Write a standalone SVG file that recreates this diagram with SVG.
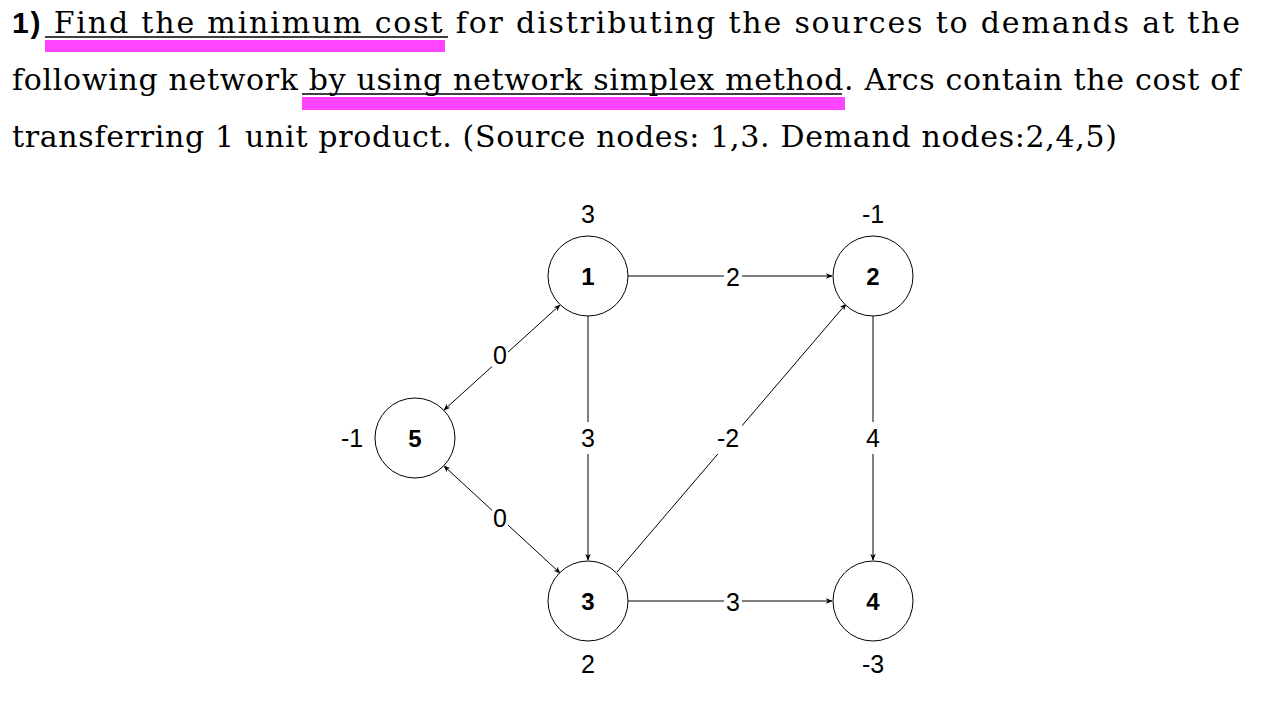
<svg xmlns="http://www.w3.org/2000/svg" width="1278" height="712" viewBox="0 0 1278 712">
<style>
.q{font-family:"DejaVu Serif","Liberation Serif",serif;font-size:30px;fill:#000}
.n{font-family:"Liberation Sans",Arial,sans-serif;font-size:24px;font-weight:bold;text-anchor:middle;dominant-baseline:central}
.l{font-family:"Liberation Sans",Arial,sans-serif;font-size:25px;text-anchor:middle;dominant-baseline:central}
circle{fill:#fff;stroke:#000;stroke-width:1}
.e{stroke:#000;stroke-width:1;fill:none}
.bg{fill:#fff}
</style>
<defs>
<marker id="a" viewBox="0 0 10 10" refX="9" refY="5" markerWidth="7" markerHeight="7" orient="auto-start-reverse"><path d="M0,1 L10,5 L0,9 L3,5 Z" fill="#000"/></marker>
</defs>
<rect width="1278" height="712" fill="#fff"/>
<g id="question">
<rect x="45" y="40" width="400" height="12" fill="#ff44ff"/>
<rect x="302" y="97" width="543" height="13" fill="#ff44ff"/>
<text class="q" x="12" y="33" textLength="1228" lengthAdjust="spacing"><tspan font-family="Liberation Sans,sans-serif" font-weight="bold">1)</tspan> Find the minimum cost for distributing the sources to demands at the</text>
<line x1="45" y1="37" x2="448" y2="37" stroke="#000" stroke-width="1.5"/>
<text class="q" x="12" y="90" textLength="1228" lengthAdjust="spacing">following network by using network simplex method. Arcs contain the cost of</text>
<line x1="302" y1="94" x2="842" y2="94" stroke="#000" stroke-width="1.5"/>
<text class="q" x="12" y="147" textLength="1105" lengthAdjust="spacing">transferring 1 unit product. (Source nodes: 1,3. Demand nodes:2,4,5)</text>
</g>
<g id="connectors">
<line class="e" x1="628" y1="276" x2="832" y2="276" marker-end="url(#a)"/>
<line class="e" x1="588" y1="316" x2="588" y2="560" marker-end="url(#a)"/>
<line class="e" x1="873" y1="316" x2="873" y2="560" marker-end="url(#a)"/>
<line class="e" x1="628" y1="601" x2="832" y2="601" marker-end="url(#a)"/>
<line class="e" x1="617" y1="572" x2="846" y2="304" marker-end="url(#a)"/>
<line class="e" x1="444" y1="410" x2="560" y2="305" marker-start="url(#a)" marker-end="url(#a)"/>
<line class="e" x1="444" y1="466" x2="560" y2="573" marker-start="url(#a)" marker-end="url(#a)"/>
<rect class="bg" x="724" y="263" width="18" height="26"/><text class="l" x="733" y="277">2</text>
<rect class="bg" x="579" y="422" width="18" height="32"/><text class="l" x="588" y="438">3</text>
<rect class="bg" x="864" y="422" width="18" height="32"/><text class="l" x="873" y="438">4</text>
<rect class="bg" x="724" y="588" width="18" height="26"/><text class="l" x="733" y="602">3</text>
<rect class="bg" x="714" y="422" width="28" height="32"/><text class="l" x="728" y="438">-2</text>
<rect class="bg" x="492" y="341" width="16" height="28"/><text class="l" x="500" y="355">0</text>
<rect class="bg" x="492" y="504" width="16" height="28"/><text class="l" x="500" y="518">0</text>
</g>
<g id="node1"><circle cx="588" cy="276" r="40"/><text class="n" x="588" y="276">1</text><text class="l" x="588" y="214">3</text></g>
<g id="node2"><circle cx="873" cy="276" r="40"/><text class="n" x="873" y="276">2</text><text class="l" x="873" y="214">-1</text></g>
<g id="node3"><circle cx="588" cy="601" r="40"/><text class="n" x="588" y="601">3</text><text class="l" x="588" y="664">2</text></g>
<g id="node4"><circle cx="873" cy="601" r="40"/><text class="n" x="873" y="601">4</text><text class="l" x="873" y="664">-3</text></g>
<g id="node5"><circle cx="415" cy="438" r="40"/><text class="n" x="415" y="438">5</text><text class="l" x="352" y="438">-1</text></g>
</svg>
